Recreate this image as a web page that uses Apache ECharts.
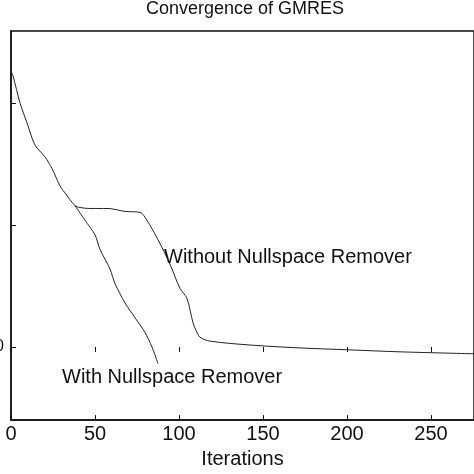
<!DOCTYPE html>
<html>
<head>
<meta charset="utf-8">
<script src="https://cdn.jsdelivr.net/npm/echarts@6/dist/echarts.min.js"></script>
<style>html,body{margin:0;padding:0;background:#fff}#chart{width:474px;height:474px}</style>
</head>
<body>
<div id="chart"></div>
<script>
// residual shown in log10 units (one decade per y tick)
var commonPart = [[0,2.264],[1.2,2.224],[5.4,2.0],[9.5,1.84],[14.3,1.656],[20.2,1.56],[24.4,1.464],[29.2,1.32],[32.1,1.264],[38.1,1.16]];
var withoutRemover = [[41.1,1.144],[47,1.136],[57.7,1.136],[67.9,1.112],[76.8,1.104],[80.9,1.04],[87.5,0.88],[94.6,0.68],[100.6,0.48],[104.7,0.4],[108.3,0.2],[110.1,0.136],[112.5,0.08],[118.4,0.048],[142.2,0.016],[172,-0.008],[201.7,-0.024],[231.5,-0.04],[275.5,-0.056]];
var withRemover = [[44,1.04],[50,0.92],[53,0.8],[58.9,0.64],[61.9,0.52],[67.9,0.36],[73.8,0.24],[79.7,0.12],[83.9,0],[87.5,-0.136]];
var xTicks = [0, 50, 100, 150, 200, 250];
var yTicks = [0, 1, 2];

var font = 'Liberation Sans, Arial, sans-serif';
var myChart = echarts.init(document.getElementById('chart'));
myChart.setOption({
  animation: false,
  title: {
    text: 'Convergence of GMRES',
    left: 240, top: -5, textAlign: 'center',
    textStyle: { fontSize: 18, fontWeight: 'normal', color: '#111', fontFamily: font }
  },
  grid: { left: 11, right: 0, top: 31, bottom: 44, show: true, borderColor: '#111', borderWidth: 1.5 },
  xAxis: [{
    type: 'value', min: 0, max: 275.6, interval: 50,
    name: 'Iterations', nameLocation: 'middle', nameGap: 25,
    nameTextStyle: { fontSize: 20, color: '#111', fontFamily: font },
    axisLine: { onZero: false, lineStyle: { color: '#111', width: 1.5 } },
    axisTick: { inside: true, length: 5, lineStyle: { color: '#111' } },
    axisLabel: { fontSize: 20, color: '#111', fontFamily: font, margin: 4, showMaxLabel: false },
    splitLine: { show: false }
  }, {
    type: 'value', position: 'top', min: 0, max: 275.6, interval: 50,
    axisLine: { show: false },
    axisTick: { inside: true, length: 5, lineStyle: { color: '#111' } },
    axisLabel: { show: false }, splitLine: { show: false }
  }],
  yAxis: {
    type: 'value', min: -0.6, max: 2.592,
    axisLine: { lineStyle: { color: '#111', width: 1.5 } },
    axisTick: { inside: true, length: 5, customValues: yTicks, lineStyle: { color: '#111' } },
    axisLabel: { show: false },
    splitLine: { show: false }
  },
  graphic: [
    { type: 'text', left: -5, top: 339, style: { text: '0', fontSize: 16, fill: '#111', fontFamily: font } },
    { type: 'text', left: 164, top: 247, style: { text: 'Without Nullspace Remover', fontSize: 20, fill: '#111', fontFamily: font } },
    { type: 'text', left: 62, top: 367, style: { text: 'With Nullspace Remover', fontSize: 20, fill: '#111', fontFamily: font } }
  ],
  series: [
    { type: 'line', data: commonPart.concat(withoutRemover), showSymbol: false, smooth: 0.3, lineStyle: { color: '#222', width: 1 } },
    { type: 'line', data: commonPart.slice(-1).concat(withRemover), showSymbol: false, smooth: 0.3, lineStyle: { color: '#222', width: 1 } }
  ]
});
</script>
</body>
</html>
